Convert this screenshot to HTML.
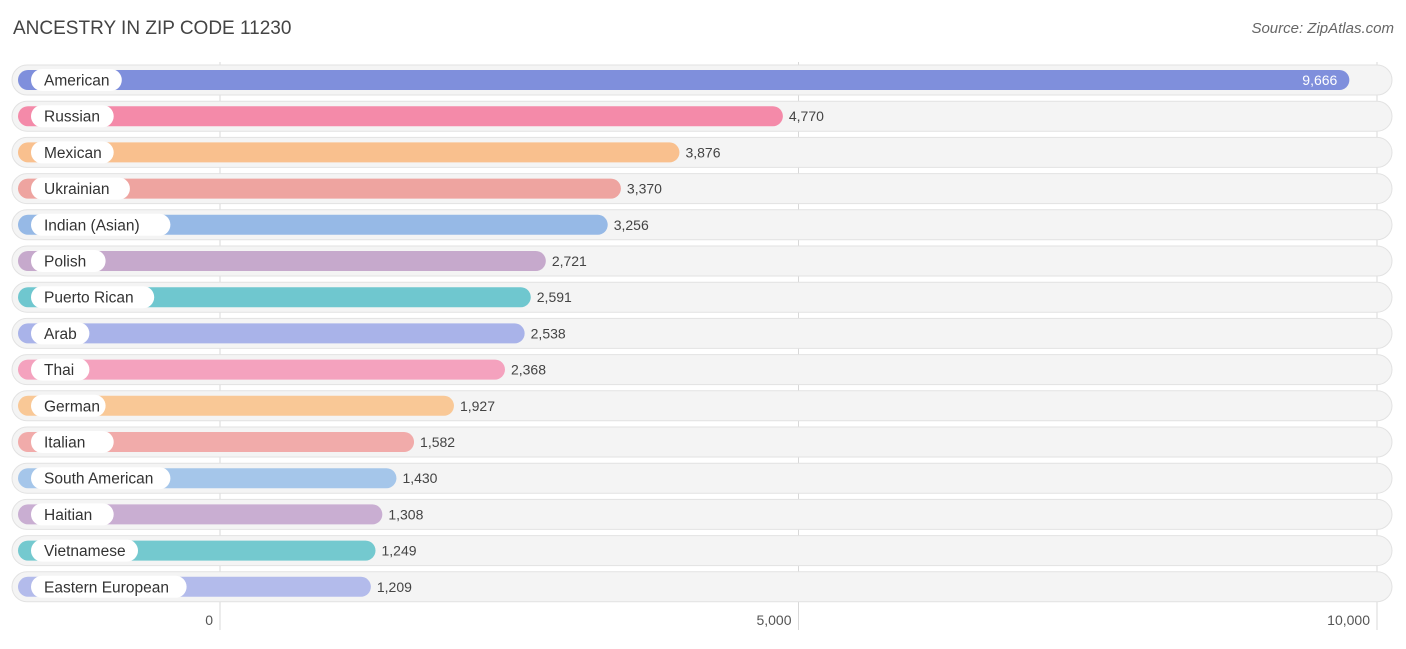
<!DOCTYPE html>
<html><head><meta charset="utf-8"><style>
body{margin:0;background:#fff;font-family:"Liberation Sans",sans-serif;}
svg text{font-family:"Liberation Sans",sans-serif;}
</style></head><body>
<svg id="c" width="1406" height="644">
<text x="13" y="34" font-size="19" fill="#444">ANCESTRY IN ZIP CODE 11230</text>
<text x="1394" y="33" font-size="15" fill="#666" font-style="italic" text-anchor="end">Source: ZipAtlas.com</text>
<g id="grid"></g><g id="rows"></g><g id="axis"></g>
</svg>
<script>
const categories=["American","Russian","Mexican","Ukrainian","Indian (Asian)","Polish","Puerto Rican","Arab","Thai","German","Italian","South American","Haitian","Vietnamese","Eastern European"];
const values=[9666,4770,3876,3370,3256,2721,2591,2538,2368,1927,1582,1430,1308,1249,1209];
const valueLabels=["9,666","4,770","3,876","3,370","3,256","2,721","2,591","2,538","2,368","1,927","1,582","1,430","1,308","1,249","1,209"];
const ticks=[0,5000,10000];
const tickLabels=["0","5,000","10,000"];
const colors=["#7f8fdc","#f48aa9","#f9c08e","#eea4a0","#96b9e6","#c6a9cc","#6fc7cf","#a9b3e9","#f4a2be","#f9c896","#f1abaa","#a5c6ea","#c9aed2","#74c9cf","#b3bbeb"];
const NS="http://www.w3.org/2000/svg";
const x=v=>220+v*0.1157;
const rowY=i=>80+i*36.2;
function mk(t,a,p){const e=document.createElementNS(NS,t);for(const k in a)e.setAttribute(k,a[k]);p.appendChild(e);return e;}
const rows=document.getElementById('rows'),grid=document.getElementById('grid'),axis=document.getElementById('axis');
categories.forEach((c,i)=>{
 const y=rowY(i);
 const g=mk('g',{},rows);
 
 
 const bg=mk('rect',{x:12,y:y-15,width:1380,height:30,rx:15,fill:'#f4f4f4',stroke:'#e2e2e2'},g);
 
 
 const end=x(values[i])+11;
 const bar=mk('rect',{x:18,y:y-10,width:end-18,height:20,rx:10,fill:colors[i]},g);
 
 
 const tw=c.length*8.1+26;
 const pill=mk('rect',{x:31,y:y-11,width:tw,height:22,rx:11,fill:'#fff'},g);
 
 
 const t=mk('text',{x:44,y:y+5.5,'font-size':15.5,fill:'#333'},g);t.textContent=c;
 
 
 const inside=i===0;
 const vt=mk('text',{x:inside?end-12:end+6,y:y+5,'font-size':14,fill:inside?'#fff':'#444','text-anchor':inside?'end':'start'},g);
 vt.textContent=valueLabels[i];
 
 
});
ticks.forEach((v,i)=>{
 const l=mk('line',{x1:x(v),x2:x(v),y1:62,y2:630,stroke:'#d8d8d8','stroke-width':1},grid);
 
 
 const t=mk('text',{x:x(v)-7,y:625,'font-size':14,fill:'#555','text-anchor':'end'},axis);
 t.textContent=tickLabels[i];
 
 
});
</script>
</body></html>
